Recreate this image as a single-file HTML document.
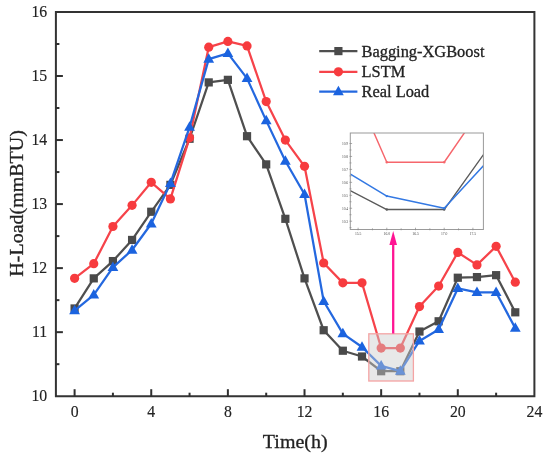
<!DOCTYPE html>
<html><head><meta charset="utf-8"><style>
html,body{margin:0;padding:0;background:#fff;}
svg{display:block;}
</style></head><body>
<svg width="550" height="458" viewBox="0 0 550 458">
<polyline points="74.60,308.47 93.76,278.37 112.92,261.08 132.08,239.94 151.24,211.76 170.40,184.87 189.56,138.76 208.72,82.40 227.88,79.84 247.04,136.20 266.20,164.38 285.36,218.81 304.52,278.37 323.68,330.24 342.84,350.73 362.00,356.50 381.16,371.22 400.32,371.22 419.48,331.52 438.64,321.27 457.80,277.73 476.96,277.09 496.12,275.16 515.28,312.31" fill="none" stroke="#4f4f4f" stroke-width="2.25" stroke-linejoin="round"/>
<rect x="70.50" y="304.37" width="8.2" height="8.2" fill="#4a4a4a"/>
<rect x="89.66" y="274.27" width="8.2" height="8.2" fill="#4a4a4a"/>
<rect x="108.82" y="256.98" width="8.2" height="8.2" fill="#4a4a4a"/>
<rect x="127.98" y="235.84" width="8.2" height="8.2" fill="#4a4a4a"/>
<rect x="147.14" y="207.66" width="8.2" height="8.2" fill="#4a4a4a"/>
<rect x="166.30" y="180.77" width="8.2" height="8.2" fill="#4a4a4a"/>
<rect x="185.46" y="134.66" width="8.2" height="8.2" fill="#4a4a4a"/>
<rect x="204.62" y="78.30" width="8.2" height="8.2" fill="#4a4a4a"/>
<rect x="223.78" y="75.74" width="8.2" height="8.2" fill="#4a4a4a"/>
<rect x="242.94" y="132.10" width="8.2" height="8.2" fill="#4a4a4a"/>
<rect x="262.10" y="160.28" width="8.2" height="8.2" fill="#4a4a4a"/>
<rect x="281.26" y="214.71" width="8.2" height="8.2" fill="#4a4a4a"/>
<rect x="300.42" y="274.27" width="8.2" height="8.2" fill="#4a4a4a"/>
<rect x="319.58" y="326.14" width="8.2" height="8.2" fill="#4a4a4a"/>
<rect x="338.74" y="346.63" width="8.2" height="8.2" fill="#4a4a4a"/>
<rect x="357.90" y="352.40" width="8.2" height="8.2" fill="#4a4a4a"/>
<rect x="377.06" y="367.12" width="8.2" height="8.2" fill="#4a4a4a"/>
<rect x="396.22" y="367.12" width="8.2" height="8.2" fill="#4a4a4a"/>
<rect x="415.38" y="327.42" width="8.2" height="8.2" fill="#4a4a4a"/>
<rect x="434.54" y="317.17" width="8.2" height="8.2" fill="#4a4a4a"/>
<rect x="453.70" y="273.63" width="8.2" height="8.2" fill="#4a4a4a"/>
<rect x="472.86" y="272.99" width="8.2" height="8.2" fill="#4a4a4a"/>
<rect x="492.02" y="271.06" width="8.2" height="8.2" fill="#4a4a4a"/>
<rect x="511.18" y="308.21" width="8.2" height="8.2" fill="#4a4a4a"/>
<polyline points="74.60,278.37 93.76,263.64 112.92,226.49 132.08,205.36 151.24,182.31 170.40,198.96 189.56,137.80 208.72,47.18 227.88,41.42 247.04,45.90 266.20,101.62 285.36,140.04 304.52,166.30 323.68,263.00 342.84,282.85 362.00,282.85 381.16,348.04 400.32,348.04 419.48,306.54 438.64,286.05 457.80,252.43 476.96,264.92 496.12,246.35 515.28,282.21" fill="none" stroke="#f6434a" stroke-width="2.25" stroke-linejoin="round"/>
<circle cx="74.60" cy="278.37" r="4.6" fill="#f73b3e"/>
<circle cx="93.76" cy="263.64" r="4.6" fill="#f73b3e"/>
<circle cx="112.92" cy="226.49" r="4.6" fill="#f73b3e"/>
<circle cx="132.08" cy="205.36" r="4.6" fill="#f73b3e"/>
<circle cx="151.24" cy="182.31" r="4.6" fill="#f73b3e"/>
<circle cx="170.40" cy="198.96" r="4.6" fill="#f73b3e"/>
<circle cx="189.56" cy="137.80" r="4.6" fill="#f73b3e"/>
<circle cx="208.72" cy="47.18" r="4.6" fill="#f73b3e"/>
<circle cx="227.88" cy="41.42" r="4.6" fill="#f73b3e"/>
<circle cx="247.04" cy="45.90" r="4.6" fill="#f73b3e"/>
<circle cx="266.20" cy="101.62" r="4.6" fill="#f73b3e"/>
<circle cx="285.36" cy="140.04" r="4.6" fill="#f73b3e"/>
<circle cx="304.52" cy="166.30" r="4.6" fill="#f73b3e"/>
<circle cx="323.68" cy="263.00" r="4.6" fill="#f73b3e"/>
<circle cx="342.84" cy="282.85" r="4.6" fill="#f73b3e"/>
<circle cx="362.00" cy="282.85" r="4.6" fill="#f73b3e"/>
<circle cx="381.16" cy="348.04" r="4.6" fill="#f73b3e"/>
<circle cx="400.32" cy="348.04" r="4.6" fill="#f73b3e"/>
<circle cx="419.48" cy="306.54" r="4.6" fill="#f73b3e"/>
<circle cx="438.64" cy="286.05" r="4.6" fill="#f73b3e"/>
<circle cx="457.80" cy="252.43" r="4.6" fill="#f73b3e"/>
<circle cx="476.96" cy="264.92" r="4.6" fill="#f73b3e"/>
<circle cx="496.12" cy="246.35" r="4.6" fill="#f73b3e"/>
<circle cx="515.28" cy="282.21" r="4.6" fill="#f73b3e"/>
<polyline points="74.60,310.53 93.76,294.84 112.92,267.30 132.08,250.01 151.24,223.75 170.40,183.41 189.56,127.05 208.72,59.17 227.88,53.41 247.04,78.38 266.20,120.65 285.36,160.99 304.52,194.29 323.68,301.24 342.84,333.58 362.00,347.03 381.16,365.92 400.32,371.04 419.48,340.95 438.64,329.42 457.80,288.43 476.96,292.28 496.12,292.28 515.28,328.14" fill="none" stroke="#2468df" stroke-width="2.25" stroke-linejoin="round"/>
<polygon points="74.60,304.68 80.00,314.18 69.20,314.18" fill="#1b63df"/>
<polygon points="93.76,288.99 99.16,298.49 88.36,298.49" fill="#1b63df"/>
<polygon points="112.92,261.45 118.32,270.95 107.52,270.95" fill="#1b63df"/>
<polygon points="132.08,244.16 137.48,253.66 126.68,253.66" fill="#1b63df"/>
<polygon points="151.24,217.90 156.64,227.40 145.84,227.40" fill="#1b63df"/>
<polygon points="170.40,177.56 175.80,187.06 165.00,187.06" fill="#1b63df"/>
<polygon points="189.56,121.20 194.96,130.70 184.16,130.70" fill="#1b63df"/>
<polygon points="208.72,53.32 214.12,62.82 203.32,62.82" fill="#1b63df"/>
<polygon points="227.88,47.56 233.28,57.06 222.48,57.06" fill="#1b63df"/>
<polygon points="247.04,72.53 252.44,82.03 241.64,82.03" fill="#1b63df"/>
<polygon points="266.20,114.80 271.60,124.30 260.80,124.30" fill="#1b63df"/>
<polygon points="285.36,155.14 290.76,164.64 279.96,164.64" fill="#1b63df"/>
<polygon points="304.52,188.44 309.92,197.94 299.12,197.94" fill="#1b63df"/>
<polygon points="323.68,295.39 329.08,304.89 318.28,304.89" fill="#1b63df"/>
<polygon points="342.84,327.73 348.24,337.23 337.44,337.23" fill="#1b63df"/>
<polygon points="362.00,341.18 367.40,350.68 356.60,350.68" fill="#1b63df"/>
<polygon points="381.16,360.07 386.56,369.57 375.76,369.57" fill="#1b63df"/>
<polygon points="400.32,365.19 405.72,374.69 394.92,374.69" fill="#1b63df"/>
<polygon points="419.48,335.10 424.88,344.60 414.08,344.60" fill="#1b63df"/>
<polygon points="438.64,323.57 444.04,333.07 433.24,333.07" fill="#1b63df"/>
<polygon points="457.80,282.58 463.20,292.08 452.40,292.08" fill="#1b63df"/>
<polygon points="476.96,286.43 482.36,295.93 471.56,295.93" fill="#1b63df"/>
<polygon points="496.12,286.43 501.52,295.93 490.72,295.93" fill="#1b63df"/>
<polygon points="515.28,322.29 520.68,331.79 509.88,331.79" fill="#1b63df"/>
<rect x="368.8" y="333.8" width="44.6" height="47.2" fill="#cdcdcd" fill-opacity="0.45" stroke="#f4a4a4" stroke-width="1.3"/>
<line x1="393.2" y1="333.5" x2="393.2" y2="243" stroke="#ff1493" stroke-width="2.3"/>
<polygon points="393.2,231 397,245 389.4,245" fill="#ff1493"/>
<path d="M55.9,11.9 H534.4 V396.2 H55.9 Z" fill="none" stroke="#333" stroke-width="2"/>
<line x1="74.60" y1="396.2" x2="74.60" y2="389.2" stroke="#303030" stroke-width="2"/>
<line x1="112.92" y1="396.2" x2="112.92" y2="392.7" stroke="#303030" stroke-width="2"/>
<line x1="151.24" y1="396.2" x2="151.24" y2="389.2" stroke="#303030" stroke-width="2"/>
<line x1="189.56" y1="396.2" x2="189.56" y2="392.7" stroke="#303030" stroke-width="2"/>
<line x1="227.88" y1="396.2" x2="227.88" y2="389.2" stroke="#303030" stroke-width="2"/>
<line x1="266.20" y1="396.2" x2="266.20" y2="392.7" stroke="#303030" stroke-width="2"/>
<line x1="304.52" y1="396.2" x2="304.52" y2="389.2" stroke="#303030" stroke-width="2"/>
<line x1="342.84" y1="396.2" x2="342.84" y2="392.7" stroke="#303030" stroke-width="2"/>
<line x1="381.16" y1="396.2" x2="381.16" y2="389.2" stroke="#303030" stroke-width="2"/>
<line x1="419.48" y1="396.2" x2="419.48" y2="392.7" stroke="#303030" stroke-width="2"/>
<line x1="457.80" y1="396.2" x2="457.80" y2="389.2" stroke="#303030" stroke-width="2"/>
<line x1="496.12" y1="396.2" x2="496.12" y2="392.7" stroke="#303030" stroke-width="2"/>
<line x1="55.9" y1="364.18" x2="59.4" y2="364.18" stroke="#303030" stroke-width="2"/>
<line x1="55.9" y1="332.16" x2="62.9" y2="332.16" stroke="#303030" stroke-width="2"/>
<line x1="55.9" y1="300.14" x2="59.4" y2="300.14" stroke="#303030" stroke-width="2"/>
<line x1="55.9" y1="268.12" x2="62.9" y2="268.12" stroke="#303030" stroke-width="2"/>
<line x1="55.9" y1="236.10" x2="59.4" y2="236.10" stroke="#303030" stroke-width="2"/>
<line x1="55.9" y1="204.08" x2="62.9" y2="204.08" stroke="#303030" stroke-width="2"/>
<line x1="55.9" y1="172.06" x2="59.4" y2="172.06" stroke="#303030" stroke-width="2"/>
<line x1="55.9" y1="140.04" x2="62.9" y2="140.04" stroke="#303030" stroke-width="2"/>
<line x1="55.9" y1="108.02" x2="59.4" y2="108.02" stroke="#303030" stroke-width="2"/>
<line x1="55.9" y1="76.00" x2="62.9" y2="76.00" stroke="#303030" stroke-width="2"/>
<line x1="55.9" y1="43.98" x2="59.4" y2="43.98" stroke="#303030" stroke-width="2"/>
<text transform="translate(74.60,417.2) scale(0.93,1.03)" font-family="Liberation Serif, Times New Roman, serif" stroke="#222" stroke-width="0.15" font-size="17" text-anchor="middle" fill="#222">0</text>
<text transform="translate(151.24,417.2) scale(0.93,1.03)" font-family="Liberation Serif, Times New Roman, serif" stroke="#222" stroke-width="0.15" font-size="17" text-anchor="middle" fill="#222">4</text>
<text transform="translate(227.88,417.2) scale(0.93,1.03)" font-family="Liberation Serif, Times New Roman, serif" stroke="#222" stroke-width="0.15" font-size="17" text-anchor="middle" fill="#222">8</text>
<text transform="translate(304.52,417.2) scale(0.93,1.03)" font-family="Liberation Serif, Times New Roman, serif" stroke="#222" stroke-width="0.15" font-size="17" text-anchor="middle" fill="#222">12</text>
<text transform="translate(381.16,417.2) scale(0.93,1.03)" font-family="Liberation Serif, Times New Roman, serif" stroke="#222" stroke-width="0.15" font-size="17" text-anchor="middle" fill="#222">16</text>
<text transform="translate(457.80,417.2) scale(0.93,1.03)" font-family="Liberation Serif, Times New Roman, serif" stroke="#222" stroke-width="0.15" font-size="17" text-anchor="middle" fill="#222">20</text>
<text transform="translate(534.44,417.2) scale(0.93,1.03)" font-family="Liberation Serif, Times New Roman, serif" stroke="#222" stroke-width="0.15" font-size="17" text-anchor="middle" fill="#222">24</text>
<text transform="translate(47.2,401.00) scale(0.93,1.03)" font-family="Liberation Serif, Times New Roman, serif" stroke="#222" stroke-width="0.15" font-size="17" text-anchor="end" fill="#222">10</text>
<text transform="translate(47.2,336.96) scale(0.93,1.03)" font-family="Liberation Serif, Times New Roman, serif" stroke="#222" stroke-width="0.15" font-size="17" text-anchor="end" fill="#222">11</text>
<text transform="translate(47.2,272.92) scale(0.93,1.03)" font-family="Liberation Serif, Times New Roman, serif" stroke="#222" stroke-width="0.15" font-size="17" text-anchor="end" fill="#222">12</text>
<text transform="translate(47.2,208.88) scale(0.93,1.03)" font-family="Liberation Serif, Times New Roman, serif" stroke="#222" stroke-width="0.15" font-size="17" text-anchor="end" fill="#222">13</text>
<text transform="translate(47.2,144.84) scale(0.93,1.03)" font-family="Liberation Serif, Times New Roman, serif" stroke="#222" stroke-width="0.15" font-size="17" text-anchor="end" fill="#222">14</text>
<text transform="translate(47.2,80.80) scale(0.93,1.03)" font-family="Liberation Serif, Times New Roman, serif" stroke="#222" stroke-width="0.15" font-size="17" text-anchor="end" fill="#222">15</text>
<text transform="translate(47.2,16.76) scale(0.93,1.03)" font-family="Liberation Serif, Times New Roman, serif" stroke="#222" stroke-width="0.15" font-size="17" text-anchor="end" fill="#222">16</text>
<text transform="translate(295.2,448.3) scale(1,0.93)" font-family="Liberation Serif, Times New Roman, serif" stroke="#222" stroke-width="0.3" font-size="20" text-anchor="middle" fill="#222">Time(h)</text>
<text transform="translate(22.6,203.4) rotate(-90) scale(1.0,0.93)" x="0" y="0" font-family="Liberation Serif, Times New Roman, serif" stroke="#222" stroke-width="0.3" font-size="20" text-anchor="middle" fill="#222">H-Load(mmBTU)</text>
<line x1="319.2" y1="51.1" x2="357.4" y2="51.1" stroke="#4f4f4f" stroke-width="2.25"/>
<rect x="334.30" y="47.00" width="8.2" height="8.2" fill="#4a4a4a"/>
<text x="361.5" y="56.50" font-family="Liberation Serif, Times New Roman, serif" stroke="#222" stroke-width="0.3" font-size="16.4" fill="#222">Bagging-XGBoost</text>
<line x1="319.2" y1="71.8" x2="357.4" y2="71.8" stroke="#f6434a" stroke-width="2.25"/>
<circle cx="338.40" cy="71.80" r="4.6" fill="#f73b3e"/>
<text x="361.5" y="77.20" font-family="Liberation Serif, Times New Roman, serif" stroke="#222" stroke-width="0.3" font-size="16.4" fill="#222">LSTM</text>
<line x1="319.2" y1="91.7" x2="357.4" y2="91.7" stroke="#2468df" stroke-width="2.25"/>
<polygon points="338.40,85.85 343.80,95.35 333.00,95.35" fill="#1b63df"/>
<text x="361.5" y="97.10" font-family="Liberation Serif, Times New Roman, serif" stroke="#222" stroke-width="0.3" font-size="16.4" fill="#222">Real Load</text>
<clipPath id="ic"><rect x="350.3" y="133.0" width="133.09999999999997" height="96.5"/></clipPath>
<rect x="350.3" y="133.0" width="133.09999999999997" height="96.5" fill="#fff"/>
<g clip-path="url(#ic)">
<polyline points="-531.60,82.64 -474.20,21.77 -416.80,-13.19 -359.40,-55.93 -302.00,-112.91 -244.60,-167.30 -187.20,-260.54 -129.80,-374.50 -72.40,-379.68 -15.00,-265.72 42.40,-208.74 99.80,-98.66 157.20,21.77 214.60,126.67 272.00,168.10 329.40,179.76 386.80,209.54 444.20,209.54 501.60,129.26 559.00,108.54 616.40,20.48 673.80,19.18 731.20,15.29 788.60,90.40" fill="none" stroke="#5a5a5a" stroke-width="1.4" stroke-linejoin="round"/>
<circle cx="386.80" cy="209.54" r="1.2" fill="#5a5a5a"/>
<circle cx="444.20" cy="209.54" r="1.2" fill="#5a5a5a"/>
<polyline points="-531.60,21.77 -474.20,-8.01 -416.80,-83.12 -359.40,-125.86 -302.00,-172.48 -244.60,-138.81 -187.20,-262.48 -129.80,-445.72 -72.40,-457.38 -15.00,-448.32 42.40,-335.65 99.80,-257.95 157.20,-204.85 214.60,-9.31 272.00,30.84 329.40,30.84 386.80,162.28 444.20,162.28 501.60,78.75 559.00,37.31 616.40,-30.68 673.80,-5.43 731.20,-42.98 788.60,29.54" fill="none" stroke="#f6666c" stroke-width="1.45" stroke-linejoin="round"/>
<circle cx="386.80" cy="162.28" r="1.2" fill="#f6666c"/>
<circle cx="444.20" cy="162.28" r="1.2" fill="#f6666c"/>
<polyline points="-531.60,86.80 -474.20,55.08 -416.80,-0.61 -359.40,-35.57 -302.00,-88.67 -244.60,-170.25 -187.20,-284.21 -129.80,-421.48 -72.40,-433.14 -15.00,-382.63 42.40,-297.16 99.80,-215.58 157.20,-148.24 214.60,68.03 272.00,133.42 329.40,161.37 386.80,196.08 444.20,208.25 501.60,146.09 559.00,125.01 616.40,42.13 673.80,49.90 731.20,49.90 788.60,122.42" fill="none" stroke="#3479e3" stroke-width="1.5" stroke-linejoin="round"/>
<circle cx="386.80" cy="196.08" r="1.2" fill="#3479e3"/>
<circle cx="444.20" cy="208.25" r="1.2" fill="#3479e3"/>
</g>
<rect x="350.3" y="133.0" width="133.09999999999997" height="96.5" fill="none" stroke="#9a9a9a" stroke-width="1"/>
<line x1="358.10" y1="230.3" x2="358.10" y2="227.7" stroke="#888" stroke-width="0.7"/>
<text transform="translate(358.10,234.6) scale(0.88,1)" font-family="Liberation Serif, Times New Roman, serif" font-size="4.2" text-anchor="middle" fill="#444">15.5</text>
<line x1="372.45" y1="230.3" x2="372.45" y2="228.3" stroke="#888" stroke-width="0.7"/>
<line x1="386.80" y1="230.3" x2="386.80" y2="227.7" stroke="#888" stroke-width="0.7"/>
<text transform="translate(386.80,234.6) scale(0.88,1)" font-family="Liberation Serif, Times New Roman, serif" font-size="4.2" text-anchor="middle" fill="#444">16.0</text>
<line x1="401.15" y1="230.3" x2="401.15" y2="228.3" stroke="#888" stroke-width="0.7"/>
<line x1="415.50" y1="230.3" x2="415.50" y2="227.7" stroke="#888" stroke-width="0.7"/>
<text transform="translate(415.50,234.6) scale(0.88,1)" font-family="Liberation Serif, Times New Roman, serif" font-size="4.2" text-anchor="middle" fill="#444">16.5</text>
<line x1="429.85" y1="230.3" x2="429.85" y2="228.3" stroke="#888" stroke-width="0.7"/>
<line x1="444.20" y1="230.3" x2="444.20" y2="227.7" stroke="#888" stroke-width="0.7"/>
<text transform="translate(444.20,234.6) scale(0.88,1)" font-family="Liberation Serif, Times New Roman, serif" font-size="4.2" text-anchor="middle" fill="#444">17.0</text>
<line x1="458.55" y1="230.3" x2="458.55" y2="228.3" stroke="#888" stroke-width="0.7"/>
<line x1="472.90" y1="230.3" x2="472.90" y2="227.7" stroke="#888" stroke-width="0.7"/>
<text transform="translate(472.90,234.6) scale(0.88,1)" font-family="Liberation Serif, Times New Roman, serif" font-size="4.2" text-anchor="middle" fill="#444">17.5</text>
<line x1="349.5" y1="227.68" x2="351.5" y2="227.68" stroke="#888" stroke-width="0.7"/>
<line x1="349.5" y1="221.20" x2="352.1" y2="221.20" stroke="#888" stroke-width="0.7"/>
<text transform="translate(348.1,222.70) scale(0.85,1)" font-family="Liberation Serif, Times New Roman, serif" font-size="4.2" text-anchor="end" fill="#444">10.3</text>
<line x1="349.5" y1="214.73" x2="351.5" y2="214.73" stroke="#888" stroke-width="0.7"/>
<line x1="349.5" y1="208.25" x2="352.1" y2="208.25" stroke="#888" stroke-width="0.7"/>
<text transform="translate(348.1,209.75) scale(0.85,1)" font-family="Liberation Serif, Times New Roman, serif" font-size="4.2" text-anchor="end" fill="#444">10.4</text>
<line x1="349.5" y1="201.78" x2="351.5" y2="201.78" stroke="#888" stroke-width="0.7"/>
<line x1="349.5" y1="195.30" x2="352.1" y2="195.30" stroke="#888" stroke-width="0.7"/>
<text transform="translate(348.1,196.80) scale(0.85,1)" font-family="Liberation Serif, Times New Roman, serif" font-size="4.2" text-anchor="end" fill="#444">10.5</text>
<line x1="349.5" y1="188.82" x2="351.5" y2="188.82" stroke="#888" stroke-width="0.7"/>
<line x1="349.5" y1="182.35" x2="352.1" y2="182.35" stroke="#888" stroke-width="0.7"/>
<text transform="translate(348.1,183.85) scale(0.85,1)" font-family="Liberation Serif, Times New Roman, serif" font-size="4.2" text-anchor="end" fill="#444">10.6</text>
<line x1="349.5" y1="175.88" x2="351.5" y2="175.88" stroke="#888" stroke-width="0.7"/>
<line x1="349.5" y1="169.40" x2="352.1" y2="169.40" stroke="#888" stroke-width="0.7"/>
<text transform="translate(348.1,170.90) scale(0.85,1)" font-family="Liberation Serif, Times New Roman, serif" font-size="4.2" text-anchor="end" fill="#444">10.7</text>
<line x1="349.5" y1="162.93" x2="351.5" y2="162.93" stroke="#888" stroke-width="0.7"/>
<line x1="349.5" y1="156.45" x2="352.1" y2="156.45" stroke="#888" stroke-width="0.7"/>
<text transform="translate(348.1,157.95) scale(0.85,1)" font-family="Liberation Serif, Times New Roman, serif" font-size="4.2" text-anchor="end" fill="#444">10.8</text>
<line x1="349.5" y1="149.98" x2="351.5" y2="149.98" stroke="#888" stroke-width="0.7"/>
<line x1="349.5" y1="143.50" x2="352.1" y2="143.50" stroke="#888" stroke-width="0.7"/>
<text transform="translate(348.1,145.00) scale(0.85,1)" font-family="Liberation Serif, Times New Roman, serif" font-size="4.2" text-anchor="end" fill="#444">10.9</text>
</svg>
</body></html>
